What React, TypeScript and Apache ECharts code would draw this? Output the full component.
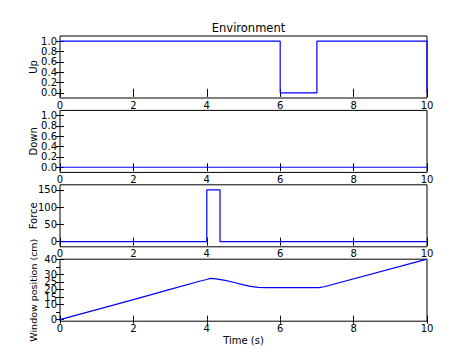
import React, { useEffect, useRef } from "react";
import * as echarts from "echarts";

// ---- Data ----
const xTicks = [0, 2, 4, 6, 8, 10];

const upT = [0, 6, 6, 7, 7, 10, 10];
const upV = [1, 1, 0, 0, 1, 1, 0];

const downT = [0, 10];
const downV = [0, 0];

const forceT = [0, 4, 4, 4.36, 4.36, 10];
const forceV = [0, 0, 150, 150, 0, 0];

const windowT = [0, 1, 2, 3, 3.8, 4.0, 4.1, 4.25, 4.5, 4.75, 5.0, 5.2, 5.4, 5.6, 7.05, 7.2, 10];
const windowV = [0, 6.7, 13.3, 20, 25.4, 26.6, 27.3, 27.0, 26.0, 24.6, 23.0, 22.0, 21.4, 21.2, 21.2, 21.8, 40];

const unitTicks = [0, 0.2, 0.4, 0.6, 0.8, 1.0];
const forceTicks = [0, 50, 100, 150];
const windowTicks = [0, 5, 10, 15, 20, 25, 30, 35, 40];

const panelNames = ["Up", "Down", "Force", "Window position (cm)"];

const FONT = "DejaVu Sans";

export default function App() {
  const ref = useRef<HTMLDivElement>(null);

  useEffect(() => {
    if (!ref.current) return;
    const chart = echarts.init(ref.current, undefined, { renderer: "svg" });

    const panels = [
      { t: upT, v: upV, min: -0.1, max: 1.1, ticks: unitTicks, fmt: (x: number) => x.toFixed(1) },
      { t: downT, v: downV, min: -0.1, max: 1.1, ticks: unitTicks, fmt: (x: number) => x.toFixed(1) },
      { t: forceT, v: forceV, min: -15, max: 165, ticks: forceTicks, fmt: (x: number) => String(x) },
      { t: windowT, v: windowV, min: -1, max: 40, ticks: windowTicks, fmt: (x: number) => String(x) },
    ];
    const tops = [36, 110.4, 184.8, 259.2];
    const H = 62;

    const grid: any[] = [];
    const xAxis: any[] = [];
    const yAxis: any[] = [];
    const series: any[] = [];

    const tickStyle = { show: true, inside: true, length: 4, lineStyle: { color: "#000", width: 1 } };

    panels.forEach((p, i) => {
      grid.push({
        left: 60,
        right: 47,
        top: tops[i],
        height: H,
        show: true,
        borderColor: "#000",
        borderWidth: 1,
        backgroundColor: "transparent",
      });
      // bottom x axis
      xAxis.push({
        type: "value",
        gridIndex: i,
        min: 0,
        max: 10,
        interval: 2,
        position: "bottom",
        axisLine: { show: false },
        axisTick: tickStyle,
        splitLine: { show: false },
        axisLabel: {
          show: true,
          margin: 2,
          color: "#000",
          fontSize: 10,
          fontFamily: FONT,
          customValues: xTicks,
          showMinLabel: true,
          showMaxLabel: true,
        },
        name: i === 3 ? "Time (s)" : "",
        nameLocation: "middle",
        nameGap: 14,
        nameMoveOverlap: false,
        nameTextStyle: { color: "#000", fontSize: 10, fontFamily: FONT },
      });
      // top x axis (ticks only)
      xAxis.push({
        type: "value",
        gridIndex: i,
        min: 0,
        max: 10,
        interval: 2,
        position: "top",
        axisLine: { show: false },
        axisTick: tickStyle,
        splitLine: { show: false },
        axisLabel: { show: false },
      });
      // left y axis
      yAxis.push({
        type: "value",
        gridIndex: i,
        min: p.min,
        max: p.max,
        position: "left",
        axisLine: { show: false },
        axisTick: { ...tickStyle, customValues: p.ticks },
        splitLine: { show: false },
        axisLabel: {
          show: true,
          margin: 3,
          color: "#000",
          fontSize: 10,
          fontFamily: FONT,
          customValues: p.ticks,
          showMinLabel: true,
          showMaxLabel: true,
          hideOverlap: false,
          formatter: (v: number) => p.fmt(v),
        },
        name: panelNames[i],
        nameLocation: "middle",
        nameGap: 22,
        nameRotate: 90,
        nameMoveOverlap: false,
        nameTextStyle: { color: "#000", fontSize: i === 3 ? 9.5 : 10, fontFamily: FONT },
      });
      // right y axis (ticks only)
      yAxis.push({
        type: "value",
        gridIndex: i,
        min: p.min,
        max: p.max,
        position: "right",
        axisLine: { show: false },
        axisTick: { ...tickStyle, customValues: p.ticks },
        splitLine: { show: false },
        axisLabel: { show: false, customValues: p.ticks },
      });
      series.push({
        type: "line",
        xAxisIndex: i * 2,
        yAxisIndex: i * 2,
        data: p.t.map((t, k) => [t, p.v[k]]),
        showSymbol: false,
        symbol: "none",
        clip: true,
        lineStyle: { color: "#0000ff", width: 1.2 },
      });
    });

    chart.setOption({
      animation: false,
      backgroundColor: "#fff",
      title: {
        text: "Environment",
        left: 243.5,
        top: 17,
        textAlign: "center",
        textStyle: { color: "#000", fontSize: 11.5, fontWeight: "normal", fontFamily: FONT },
      },
      grid,
      xAxis,
      yAxis,
      series,
    });

    return () => chart.dispose();
  }, []);

  return (
    <div
      ref={ref}
      style={{ position: "fixed", left: 0, top: 0, width: 474, height: 357 }}
    />
  );
}
